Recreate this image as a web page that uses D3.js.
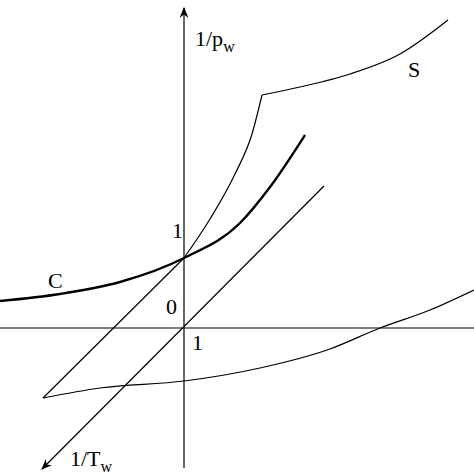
<!DOCTYPE html><html><head><script src="https://cdn.jsdelivr.net/npm/d3@7"></script>
<style>body{margin:0;background:#fff}</style></head><body><svg id="c" width="474" height="474"></svg>
<script>
const curveC = [[0,173],[60,180],[120,192],[184,216],[240,251],[270,287],[305,339]];
const curveSLine = [[43,76],[184,216]];
const curveSUp = [[184,216],[210,255],[235,300],[252,340],[262,379]];
const curveBottom = [[43,76],[100,86],[184,93],[260,106],[330,125],[380,146],[430,164],[474,184]];
const curveTop = [[262,379],[300,387],[350,400],[400,420],[448,454]];
const labels = [{t:"C",x:48,y:186},{t:"S",x:408,y:397},{t:"1",x:172,y:236},{t:"0",x:166,y:160},{t:"1",x:192,y:124}];
const x = d3.scaleLinear().domain([0,474]).range([0,474]);
const y = d3.scaleLinear().domain([0,474]).range([474,0]);
const svg = d3.select("#c");
const ln = d3.line().x(d=>x(d[0])).y(d=>y(d[1])).curve(d3.curveMonotoneX);
svg.append("defs").append("marker").attr("id","ar").attr("viewBox","0 0 10 10").attr("refX",9).attr("refY",5)
 .attr("markerWidth",9).attr("markerHeight",9).attr("orient","auto-start-reverse")
 .append("path").attr("d","M0,1L10,5L0,9L3,5Z").attr("fill","#000");
const ax = (x1,y1,x2,y2,m)=>{const l=svg.append("line").attr("x1",x(x1)).attr("y1",y(y1)).attr("x2",x(x2)).attr("y2",y(y2)).attr("stroke","#000").attr("stroke-width",1.2);if(m)l.attr("marker-end","url(#ar)");};
ax(184,6,184,466,true);
ax(0,146,474,146,false);
ax(324,288,42,5,true);
[[curveSLine,1.2],[curveSUp,1.2],[curveBottom,1.2],[curveTop,1.2],[curveC,2.4]].forEach(([d,w])=>svg.append("path").attr("d",ln(d)).attr("fill","none").attr("stroke","#000").attr("stroke-width",w));
svg.selectAll("text.l").data(labels).join("text").attr("x",d=>x(d.x)).attr("y",d=>y(d.y)).text(d=>d.t)
 .attr("font-family","Liberation Serif").attr("font-size",22);
const t1=svg.append("text").attr("x",195).attr("y",46).attr("font-family","Liberation Serif").attr("font-size",22);
t1.append("tspan").text("1/p");t1.append("tspan").attr("dy",6).attr("font-size",16).text("w");
const t2=svg.append("text").attr("x",70).attr("y",466).attr("font-family","Liberation Serif").attr("font-size",22);
t2.append("tspan").text("1/T");t2.append("tspan").attr("dy",6).attr("font-size",16).text("w");
</script></body></html>
